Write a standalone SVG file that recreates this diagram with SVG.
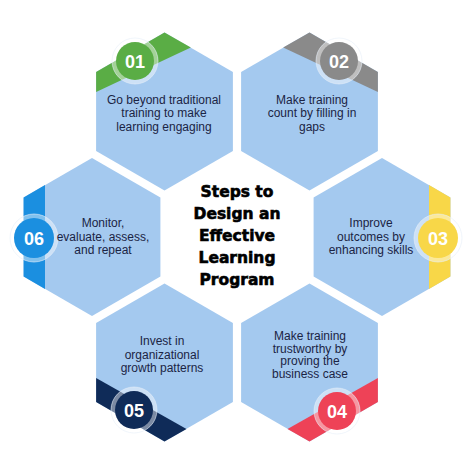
<svg xmlns="http://www.w3.org/2000/svg" width="474" height="474" viewBox="0 0 474 474">
  <defs>
    <style>
      .hex { fill: #a4c9ef; }
      .txt { font-family: "Liberation Sans", Arial, sans-serif; font-size: 12px; fill: #1b2444; text-anchor: middle; }
      .num { font-family: "Liberation Sans", Arial, sans-serif; font-size: 18px; font-weight: bold; fill: #ffffff; text-anchor: middle; }
      .halo { fill: #ffffff; fill-opacity: 0.45; stroke: #e6eef8; stroke-opacity: 0.6; stroke-width: 1; }
      .title { font-family: "DejaVu Sans", "Liberation Sans", sans-serif; font-size: 15.5px; font-weight: bold; fill: #000000; stroke: #000000; stroke-width: 0.6; text-anchor: middle; }
    </style>
  </defs>
  <rect width="474" height="474" fill="#ffffff"/>

  <g id="connectors"></g>

  <g id="center">
    <text class="title" x="237" y="197">Steps to</text>
    <text class="title" x="237" y="219">Design an</text>
    <text class="title" x="237" y="241">Effective</text>
    <text class="title" x="237" y="263">Learning</text>
    <text class="title" x="237" y="285">Program</text>
  </g>

  <g id="node01">
    <polygon class="hex" points="164.5,32.4 232.9,71.9 232.9,150.9 164.5,190.4 96.1,150.9 96.1,71.9"/>
    <polygon fill="#5aad45" points="96.1,71.9 164.5,32.4 190.8,47.6 96.1,92"/>
    <circle class="halo" cx="135" cy="61" r="23"/>
    <circle fill="#5aad45" cx="135" cy="61" r="19"/>
    <text class="num" x="135" y="67.5">01</text>
    <text class="txt" x="164" y="103.5">Go beyond traditional</text>
    <text class="txt" x="164" y="117">training to make</text>
    <text class="txt" x="164" y="130.5">learning engaging</text>
  </g>

  <g id="node02">
    <polygon class="hex" points="309.5,32.4 377.9,71.9 377.9,150.9 309.5,190.4 241.1,150.9 241.1,71.9"/>
    <polygon fill="#8a8a8a" points="377.9,71.9 309.5,32.4 283.2,47.6 377.9,92"/>
    <circle class="halo" cx="339" cy="61" r="23"/>
    <circle fill="#8a8a8a" cx="339" cy="61" r="19"/>
    <text class="num" x="339" y="67.5">02</text>
    <text class="txt" x="312" y="103.5">Make training</text>
    <text class="txt" x="312" y="117">count by filling in</text>
    <text class="txt" x="312" y="130.5">gaps</text>
  </g>

  <g id="node03">
    <polygon class="hex" points="382,158 450.4,197.5 450.4,276.5 382,316 313.6,276.5 313.6,197.5"/>
    <polygon fill="#f8d748" points="450.4,197.5 429,185.1 429,288.9 450.4,276.5"/>
    <circle class="halo" cx="438" cy="238" r="24"/>
    <circle fill="#f8d748" cx="438" cy="238" r="20"/>
    <text class="num" x="438" y="244.5">03</text>
    <text class="txt" x="371" y="227">Improve</text>
    <text class="txt" x="371" y="240.5">outcomes by</text>
    <text class="txt" x="371" y="254">enhancing skills</text>
  </g>

  <g id="node04">
    <polygon class="hex" points="309.5,283.6 377.9,323.1 377.9,402.1 309.5,441.6 241.1,402.1 241.1,323.1"/>
    <polygon fill="#ee4257" points="377.9,378 287.5,429 309.5,441.6 377.9,402.1"/>
    <circle class="halo" cx="337" cy="411" r="23"/>
    <circle fill="#ee4257" cx="337" cy="411" r="19"/>
    <text class="num" x="337" y="417.5">04</text>
    <text class="txt" x="310" y="340">Make training</text>
    <text class="txt" x="310" y="352.5">trustworthy by</text>
    <text class="txt" x="310" y="365">proving the</text>
    <text class="txt" x="310" y="377.5">business case</text>
  </g>

  <g id="node05">
    <polygon class="hex" points="164.5,283.6 232.9,323.1 232.9,402.1 164.5,441.6 96.1,402.1 96.1,323.1"/>
    <polygon fill="#0f2b58" points="96.1,378 186.5,429 164.5,441.6 96.1,402.1"/>
    <circle class="halo" cx="134" cy="410" r="23"/>
    <circle fill="#0f2b58" cx="134" cy="410" r="19"/>
    <text class="num" x="134" y="416.5">05</text>
    <text class="txt" x="162" y="345">Invest in</text>
    <text class="txt" x="162" y="358.5">organizational</text>
    <text class="txt" x="162" y="372">growth patterns</text>
  </g>

  <g id="node06">
    <polygon class="hex" points="92,158 160.4,197.5 160.4,276.5 92,316 23.6,276.5 23.6,197.5"/>
    <polygon fill="#1b8fe0" points="23.6,197.5 45,185.1 45,288.9 23.6,276.5"/>
    <circle class="halo" cx="34" cy="238" r="24"/>
    <circle fill="#1b8fe0" cx="34" cy="238" r="20"/>
    <text class="num" x="34" y="244.5">06</text>
    <text class="txt" x="103" y="227">Monitor,</text>
    <text class="txt" x="103" y="240.5">evaluate, assess,</text>
    <text class="txt" x="103" y="254">and repeat</text>
  </g>
</svg>
